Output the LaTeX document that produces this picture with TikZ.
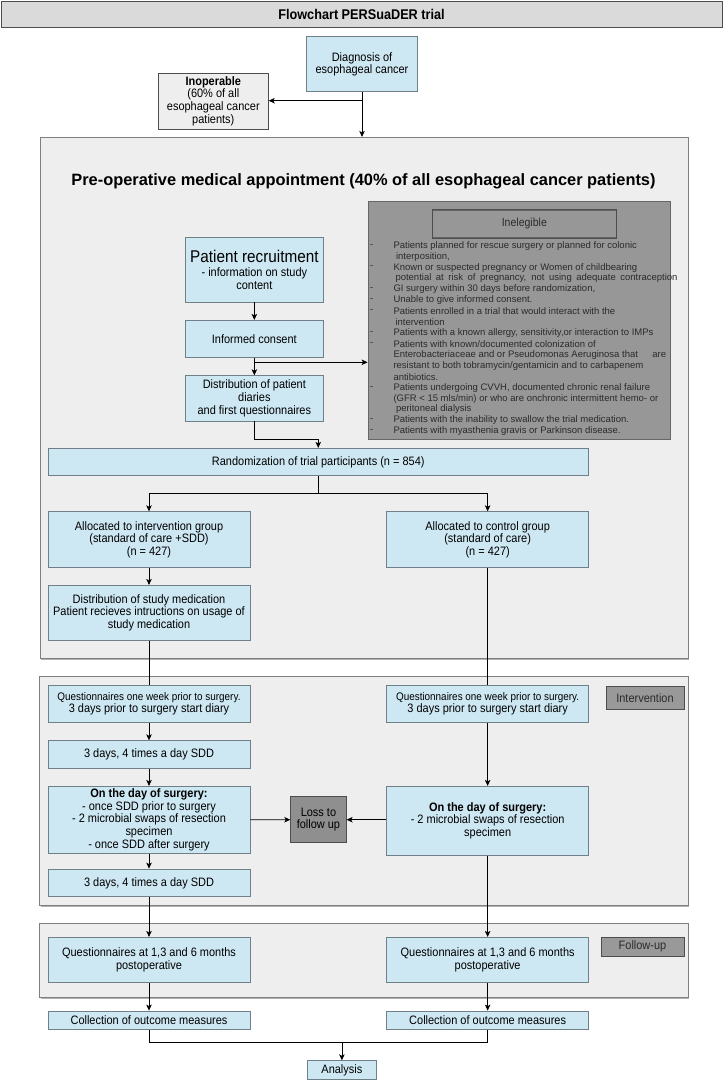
\documentclass[tikz,border=0pt]{standalone}
\usepackage{fontspec}
\setmainfont{Liberation Sans}[FakeStretch=0.9]
\newfontfamily\plainsans{Liberation Sans}
\usetikzlibrary{arrows.meta,shadows,calc}

\definecolor{boxblue}{HTML}{CEE8F3}
\definecolor{bluebord}{HTML}{6F8089}
\definecolor{secfill}{HTML}{EEEEEE}
\definecolor{secbord}{HTML}{7F7F7F}
\definecolor{graylab}{HTML}{999999}
\definecolor{darkbord}{HTML}{4D4D4D}
\definecolor{titlefill}{HTML}{DADADA}
\definecolor{ineligfill}{HTML}{979797}
\definecolor{lossfill}{HTML}{8F8F8F}
\definecolor{txtdark}{HTML}{2B2B2B}

\newcommand{\fnorm}{\fontsize{12.2}{12.7}\selectfont}
\newcommand{\fsmallq}{\fontsize{11}{14.5}\selectfont}
\newcommand{\flist}{\plainsans\fontsize{9.5}{10.9}\selectfont}

\newcommand{\bx}[7]{\node[#2, minimum width={(#5-#3)*1pt}, minimum height={(#6-#4)*1pt}] (#1) at ({(#3+#5)/2},{(#4+#6)/2}) {#7};}
\newcommand{\lrow}[4]{%
  \ifx-#2\node[listtxt] (dash#1) at (370,{245.7+(#1-1)*10.92}) {-};\fi
  \node[listtxt] (li#1) at ({393.3+#3},{245.7+(#1-1)*10.92}) {#4};}

\begin{document}
\begin{tikzpicture}[x=1pt,y=-1pt,
  basebox/.style={draw, line width=0.8pt, inner sep=0pt, align=center, font=\fnorm},
  bluebox/.style={basebox, fill=boxblue, draw=bluebord},
  section/.style={basebox, fill=secfill, draw=secbord,
     drop shadow={shadow xshift=1.3pt, shadow yshift=-1.3pt, fill=black!60, opacity=0.5}},
  titlebox/.style={basebox, fill=titlefill, draw=darkbord},
  inopbox/.style={basebox, fill=secfill, draw=darkbord},
  labelbox/.style={basebox, fill=graylab, draw=darkbord, text=txtdark},
  ineligbox/.style={basebox, fill=ineligfill, draw=secbord!80!black},
  lossbox/.style={basebox, fill=lossfill, draw=darkbord},
  listtxt/.style={anchor=west, inner sep=0pt, font=\flist, text=txtdark},
  arr/.style={-{Stealth[length=6pt,width=5.5pt,inset=1.5pt]}, line width=0.8pt},
  line/.style={line width=0.8pt}
]
\useasboundingbox (0,0) rectangle (723,1080);

% sections
\bx{preop}{section}{40}{137.3}{688}{658.3}{}
\bx{intsec}{section}{39.4}{676.7}{688}{905.3}{}
\bx{fusec}{section}{39.4}{923.3}{688}{997.3}{}

% title
\bx{title}{titlebox}{1}{1}{722}{27}{\fontsize{14.1}{16}\selectfont\bfseries Flowchart PERSuaDER trial}

% top
\bx{diag}{bluebox}{306.7}{36.7}{417.3}{91.7}{Diagnosis of\\esophageal cancer}
\bx{inop}{inopbox}{158.3}{73.3}{268.3}{129}{{\fontsize{12.2}{11.9}\selectfont\bfseries Inoperable}\\(60\% of all\\esophageal cancer\\patients)}

\node[font={\plainsans\fontsize{16.4}{18}\selectfont\bfseries}, inner sep=0pt] (preophead) at (363.5,181) {Pre-operative medical appointment (40\% of all esophageal cancer patients)};

% pre-op contents
\bx{recruit}{bluebox}{185.7}{237.7}{323}{302}{{\fontsize{17}{16}\selectfont Patient recruitment}\\[1pt]{\fontsize{12.2}{14}\selectfont - information on study}\\content}
\bx{consent}{bluebox}{185.7}{320.3}{323}{357.3}{Informed consent}
\bx{diaries}{bluebox}{185.7}{375.7}{323}{421}{\fontsize{12.2}{13}\selectfont Distribution of patient\\diaries\\and first questionnaires}

\bx{inelig}{ineligbox}{368}{201}{670.5}{439}{}
\bx{ineligtitle}{ineligbox}{432.7}{210}{616}{237.7}{\color{txtdark}\fontsize{11.7}{13}\selectfont Inelegible}
\draw[line, draw=darkbord] (ineligtitle.north west) rectangle (ineligtitle.south east);

\lrow{1}{-}{0}{Patients planned for rescue surgery or planned for colonic}
\lrow{2}{.}{2.5}{interposition,}
\lrow{3}{-}{0}{Known or suspected pregnancy or Women of childbearing}
\lrow{4}{.}{2}{\hbox to 282pt{potential at risk of pregnancy, not using adequate contraception}}
\lrow{5}{-}{0}{GI surgery within 30 days before randomization,}
\lrow{6}{-}{0}{Unable to give informed consent.}
\lrow{7}{-}{0}{Patients enrolled in a trial that would interact with the}
\lrow{8}{.}{2}{intervention}
\lrow{9}{-}{0}{Patients with a known allergy, sensitivity,or interaction to IMPs}
\lrow{10}{-}{0}{Patients with known/documented colonization of}
\lrow{11}{.}{0}{\hbox to 272.7pt{Enterobacteriaceae and or Pseudomonas Aeruginosa that\hfill are}}
\lrow{12}{.}{0}{resistant to both tobramycin/gentamicin and to carbapenem}
\lrow{13}{.}{0}{antibiotics.}
\lrow{14}{-}{0}{Patients undergoing CVVH, documented chronic renal failure}
\lrow{15}{.}{0}{(GFR < 15 mls/min) or who are onchronic intermittent hemo- or}
\lrow{16}{.}{2.5}{peritoneal dialysis}
\lrow{17}{-}{0}{Patients with the inability to swallow the trial medication.}
\lrow{18}{-}{0}{Patients with myasthenia gravis or Parkinson disease.}

\bx{random}{bluebox}{48}{448.3}{588.5}{475.7}{Randomization of trial participants (n = 854)}
\bx{intgrp}{bluebox}{48}{511.7}{250}{567.7}{Allocated to intervention group\\(standard of care +SDD)\\(n = 427)}
\bx{ctrlgrp}{bluebox}{386.8}{511.7}{588.5}{567.7}{Allocated to control group\\(standard of care)\\(n = 427)}
\bx{distmed}{bluebox}{48}{585.3}{250}{640.3}{\fontsize{12.2}{13.3}\selectfont Distribution of study medication\\Patient recieves intructions on usage of\\study medication}

% intervention section
\bx{q1L}{bluebox}{48}{685}{250}{722.7}{\fsmallq Questionnaires one week prior to surgery.\\3 days prior to surgery start diary}
\bx{q1R}{bluebox}{386.8}{685}{588.5}{722.7}{\fsmallq Questionnaires one week prior to surgery.\\3 days prior to surgery start diary}
\bx{intlabel}{labelbox}{606}{686}{684}{709.3}{Intervention}
\bx{sdd1}{bluebox}{48}{740.7}{250}{768.3}{3 days, 4 times a day SDD}
\bx{dayL}{bluebox}{48}{786.3}{250}{853.3}{\fontsize{12.2}{12.4}\selectfont\textbf{On the day of surgery:}\\- once SDD prior to surgery\\- 2 microbial swaps of resection\\specimen\\- once SDD after surgery}
\bx{loss}{lossbox}{290.7}{796.7}{346.2}{842.7}{\fontsize{12.2}{14}\selectfont Loss to\\follow up}
\bx{dayR}{bluebox}{386.8}{786.3}{588.5}{855.3}{\fontsize{12.2}{13.2}\selectfont\textbf{On the day of surgery:}\\- 2 microbial swaps of resection\\specimen}
\bx{sdd2}{bluebox}{48}{869}{250}{896.7}{3 days, 4 times a day SDD}

% follow-up section
\bx{q3L}{bluebox}{48}{937.3}{250}{982.7}{\fontsize{12.2}{14.3}\selectfont Questionnaires at 1,3 and 6 months\\postoperative}
\bx{q3R}{bluebox}{386.8}{937.3}{588.5}{982.7}{\fontsize{12.2}{14.3}\selectfont Questionnaires at 1,3 and 6 months\\postoperative}
\bx{fulabel}{labelbox}{601}{937.3}{684}{956}{Follow-up}
\bx{collL}{bluebox}{48}{1011}{250}{1029.3}{Collection of outcome measures}
\bx{collR}{bluebox}{386.8}{1011}{588.5}{1029.3}{Collection of outcome measures}
\bx{analysis}{bluebox}{307.8}{1060.7}{376}{1079.3}{Analysis}

% connectors
\coordinate (br) at (362,100.7);
\draw[arr] (diag.south) -- (diag.south |- preop.north);
\draw[arr] (br) -- (inop.east |- br);
\draw[arr] (recruit.south) -- (consent.north);
\draw[arr] (consent.south) -- (diaries.north);
\coordinate (cb) at (254.35,362.3);
\draw[arr] (cb) -- (inelig.west |- cb);
\coordinate (j1) at (318.25,439.3);
\draw[arr] (diaries.south) |- (j1) -- (random.north);
\coordinate (j2) at (318.25,493.3);
\draw[line] (random.south) -- (j2);
\draw[arr] (j2) -| (intgrp.north);
\draw[arr] (j2) -| (ctrlgrp.north);
\draw[arr] (intgrp.south) -- (distmed.north);
\draw[line] (distmed.south) -- (q1L.north);
\draw[line] (ctrlgrp.south) -- (q1R.north);
\draw[arr] (q1L.south) -- (sdd1.north);
\draw[arr] (sdd1.south) -- (dayL.north);
\draw[arr] (dayL.south) -- (sdd2.north);
\draw[arr] (q1R.south) -- (dayR.north);
\draw[arr] (dayL.east) -- (loss.west);
\draw[arr] (dayR.west |- loss.east) -- (loss.east);
\draw[arr] (sdd2.south) -- (q3L.north);
\draw[arr] (dayR.south) -- (q3R.north);
\draw[arr] (q3L.south) -- (collL.north);
\draw[arr] (q3R.south) -- (collR.north);
\coordinate (j3) at (149,1042.7);
\coordinate (j4) at (487.65,1042.7);
\draw[line] (collL.south) -- (j3) -- (j4) -- (collR.south);
\draw[arr] (analysis.north |- j3) -- (analysis.north);
\end{tikzpicture}
\end{document}
